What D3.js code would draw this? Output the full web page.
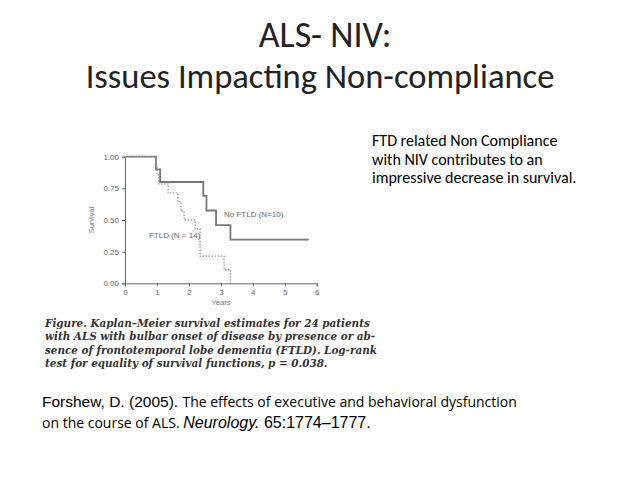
<!DOCTYPE html>
<html><head><meta charset="utf-8">
<script src="https://cdn.jsdelivr.net/npm/d3@7"></script>
<style>body{margin:0;background:#fff}svg{display:block}</style>
</head><body>
<svg id="c" width="638" height="478"></svg>
<script>
const xTicks=[0,1,2,3,4,5,6];
const yTicks=[0,0.25,0.5,0.75,1.0];
// Kaplan-Meier steps [time, survival]
const noFtld=[[0,1],[0.97,0.9],[1.1,0.8],[2.45,0.69],[2.55,0.575],[2.85,0.46],[3.3,0.345],[5.75,0.345]];
const ftld=[[0,1],[0.97,0.93],[1.0,0.857],[1.05,0.786],[1.35,0.714],[1.65,0.643],[1.75,0.571],[1.85,0.5],[2.1,0.5],[2.2,0.43],[2.35,0.214],[3.1,0.107],[3.3,0],[3.3,0]];

const svg=d3.select("#c");
const x=d3.scaleLinear().domain([0,6]).range([125,316.7]);
const y=d3.scaleLinear().domain([0,1]).range([283.3,156.7]);
const ff="'Liberation Sans',Arial,sans-serif";
const cal="Calibri,'Carlito','Open Sans',sans-serif";

svg.append("text").attr("x",325).attr("y",47).attr("text-anchor","middle").attr("font-family",cal).attr("font-size",36).attr("fill","#222").text("ALS- NIV:");
svg.append("text").attr("x",320).attr("y",88).attr("text-anchor","middle").attr("font-family",cal).attr("font-size",34.5).attr("fill","#222").text("Issues Impacting Non-compliance");

const gx=svg.append("g").attr("transform","translate(0,283.3)").call(d3.axisBottom(x).tickValues(xTicks).tickSize(3).tickFormat(d3.format("d")));
const gy=svg.append("g").attr("transform","translate(125,0)").call(d3.axisLeft(y).tickValues(yTicks).tickSize(3).tickFormat(d3.format(".2f")));
[gx,gy].forEach(g=>{g.selectAll("path,line").attr("stroke","#666");g.selectAll("text").attr("font-family",ff).attr("font-size",8).attr("fill","#666");});
svg.append("text").attr("x",221).attr("y",305).attr("text-anchor","middle").attr("font-family",ff).attr("font-size",7.5).attr("fill","#777").text("Years");
svg.append("text").attr("transform","translate(94,220) rotate(-90)").attr("text-anchor","middle").attr("font-family",ff).attr("font-size",7.5).attr("fill","#777").text("Survival");

const line=d3.line().x(d=>x(d[0])).y(d=>y(d[1])).curve(d3.curveStepAfter);
svg.append("path").datum(noFtld).attr("d",line).attr("fill","none").attr("stroke","#777").attr("stroke-width",1.8);
svg.append("path").datum(ftld).attr("d",line).attr("fill","none").attr("stroke","#999").attr("stroke-width",1.3).attr("stroke-dasharray","1.5,1.5");
svg.append("text").attr("x",x(3.1)).attr("y",y(0.52)).attr("font-family",ff).attr("font-size",8).attr("fill","#666").text("No FTLD (N=10)");
svg.append("text").attr("x",x(0.75)).attr("y",y(0.36)).attr("font-family",ff).attr("font-size",8).attr("fill","#666").text("FTLD (N = 14)");

const cap=["Figure. Kaplan–Meier survival estimates for 24 patients","with ALS with bulbar onset of disease by presence or ab-","sence of frontotemporal lobe dementia (FTLD). Log-rank","test for equality of survival functions, p = 0.038."];
svg.append("g").selectAll("text").data(cap).join("text").attr("x",45).attr("y",(d,i)=>327+i*13.3).attr("font-family","'DejaVu Serif',serif").attr("font-style","italic").attr("font-weight","bold").attr("font-size",10.4).attr("fill","#333").text(d=>d);

const side=["FTD related Non Compliance","with NIV contributes to an","impressive decrease in survival."];
svg.append("g").selectAll("text").data(side).join("text").attr("x",372).attr("y",(d,i)=>146+i*18.5).attr("font-family",cal).attr("font-size",16).attr("fill","#000").text(d=>d);

const r1=svg.append("text").attr("x",42).attr("y",407).attr("font-size",15.5).attr("fill","#000");
r1.append("tspan").attr("font-family","'Liberation Sans',Arial").text("Forshew, D. (2005). ");
r1.append("tspan").attr("font-family","'Open Sans',sans-serif").attr("font-size",14).text("The effects of executive and behavioral dysfunction");
const r2=svg.append("text").attr("x",42).attr("y",428).attr("font-size",14).attr("fill","#000");
r2.append("tspan").attr("font-family","'Open Sans',sans-serif").text("on the course of ALS. ");
r2.append("tspan").attr("font-family","'Liberation Sans',Arial").attr("font-style","italic").attr("font-size",16).text("Neurology. ");
r2.append("tspan").attr("font-family","'Liberation Sans',Arial").attr("font-size",16).text("65:1774–1777.");
</script></body></html>
